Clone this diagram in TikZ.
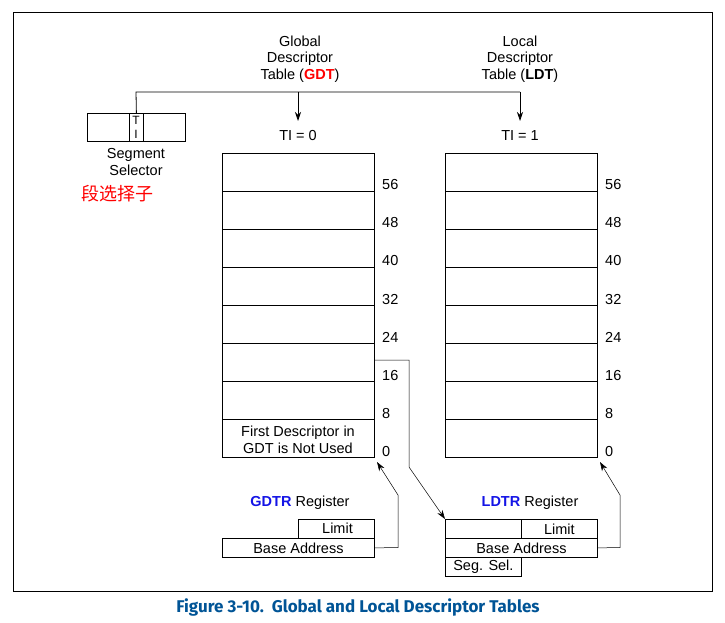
\documentclass[tikz,border=0pt]{standalone}
\usepackage{fontspec}
\setmainfont{Liberation Sans}
\newfontfamily\cjk{Noto Sans CJK SC}
\newfontfamily\capfont{Fira Sans}
\usetikzlibrary{arrows.meta}
\definecolor{capblue}{RGB}{0,84,150}
\definecolor{regblue}{RGB}{20,20,230}
\begin{document}
\begin{tikzpicture}[x=1pt,y=-1pt,font=\fontsize{14.5}{16.5}\selectfont,
  cell/.style={draw,line width=0.8pt,minimum width=152pt,minimum height=38pt,inner sep=0pt,anchor=north west},
  lbl/.style={anchor=west,inner sep=0pt},
  txt/.style={align=center,inner sep=0pt},
  reg/.style={draw,line width=0.8pt,minimum height=19pt,inner sep=0pt,anchor=north west},
  arr/.style={line width=0.5pt,-{Stealth[length=9pt,width=6pt]}},
  conn/.style={line width=0.8pt}]
\useasboundingbox (0,0) rectangle (725,622);
\draw[line width=0.8pt] (13,12) rectangle (712,591);
% titles
\node[txt] (gdtt) at (300,59) {Global\\Descriptor\\Table (\textcolor{red}{\textbf{GDT}})};
\node[txt] (ldtt) at (520,59) {Local\\Descriptor\\Table (\textbf{LDT})};
\node[txt] (ti0) at (298,136) {TI = 0};
\node[txt] (ti1) at (520,136) {TI = 1};
% selector
\node[draw,line width=0.8pt,minimum width=98pt,minimum height=28pt,inner sep=0pt,anchor=north west] (sel) at (87,113) {};
\node[draw,line width=0.8pt,minimum width=14pt,minimum height=28pt,inner sep=0pt,anchor=north west] (tibit) at (129,113) {};
\node[inner sep=0pt,font=\fontsize{12}{12}\selectfont] (tlab) at (136,120.5) {T};
\node[inner sep=0pt,font=\fontsize{12}{12}\selectfont] (ilab) at (136,134) {I};
\node[txt] (seltxt) at (136,162) {Segment\\Selector};
\node[txt,text=red,font=\cjk\fontsize{18}{20}\selectfont] (cn) at (117,194) {段选择子};
\coordinate (c1) at (136,92);
\coordinate (c2) at (298,92);
\coordinate (c3) at (520,92);
\draw[conn] (tibit.north) -- (c1) -- (c3);
\draw[arr,line width=0.8pt] (c2) -- (298,121);
\draw[arr,line width=0.8pt] (c3) -- (520,121);
% tables
\foreach \i/\v in {0/56,1/48,2/40,3/32,4/24,5/16,6/8,7/0}{
  \node[cell] (g\i) at (222,153+\i*38) {};
  \node[cell] (l\i) at (445,153+\i*38) {};
  \node[lbl] (gv\i) at (382,185+\i*38) {\v};
  \node[lbl] (lv\i) at (605,185+\i*38) {\v};
}
\node[txt] (unused) at (298,440) {First Descriptor in\\GDT is Not Used};
% GDTR
\node[txt] (gdtrl) at (300,503) {\textcolor{regblue}{\textbf{GDTR}} Register};
\node[reg,minimum width=76pt] (glim) at (298,519) {};
\node[lbl] at (322,528.5) {Limit};
\node[reg,minimum width=152pt] (gbase) at (222,538) {Base Address};
% LDTR
\node[txt] (ldtrl) at (530,503) {\textcolor{regblue}{\textbf{LDTR}} Register};
\node[reg,minimum width=76pt] (lempty) at (445,519) {};
\node[reg,minimum width=76pt] (llim) at (521,519) {Limit};
\node[reg,minimum width=152pt] (lbase) at (445,538) {Base Address};
\node[reg,minimum width=76pt] (lsel) at (445,557) {Seg. Sel.};
% connectors
\coordinate (ga) at (398,547.5);
\coordinate (gb) at (398,495);
\draw[arr] (gbase.east) -- (ga) -- (gb) -- (377,462);
\coordinate (la) at (620,547.5);
\coordinate (lb) at (620,495);
\draw[arr] (lbase.east) -- (la) -- (lb) -- (600,462);
\coordinate (s1) at (374,360);
\coordinate (s2) at (409,360);
\coordinate (s3) at (409,467);
\draw[arr] (s1) -- (s2) -- (s3) -- (lempty.north west);
% caption
\node[txt,text=capblue,font=\capfont\bfseries\fontsize{17}{19}\selectfont] (cap) at (358,607) {Figure 3-10.\ \ Global and Local Descriptor Tables};
\end{tikzpicture}
\end{document}
